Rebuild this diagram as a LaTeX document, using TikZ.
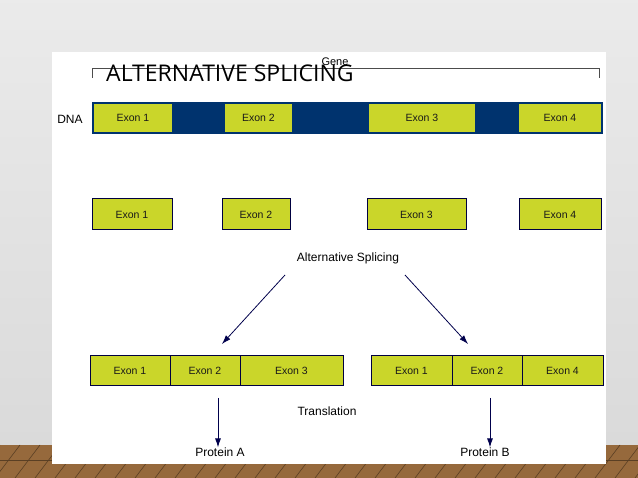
\documentclass[tikz,border=0pt]{standalone}
\usepackage{fontspec}
\setmainfont{Liberation Sans}
\newfontfamily\titlefont{Open Sans}
\usetikzlibrary{arrows.meta}
\begin{document}
\begin{tikzpicture}[x=1pt,y=-1pt,
  ex/.style={draw=black!75!blue,line width=1pt,fill=exc,inner sep=0pt,font=\fontsize{10.5}{12}\selectfont\color{black!90}},
  lbl/.style={inner sep=0pt,font=\fontsize{12}{14}\selectfont},
  arr/.style={draw=black!70!blue,line width=0.8pt,-{Latex[length=9pt,width=6pt]}}]
\definecolor{exc}{RGB}{202,214,42}
\definecolor{navy}{RGB}{0,51,110}
\definecolor{wood}{RGB}{150,105,60}
\useasboundingbox (0,0) rectangle (638,478);
\clip (0,0) rectangle (638,478);
\shade[top color=white!92!black,bottom color=white!85!black] (0,0) rectangle (638,478);
\fill[wood] (0,445) rectangle (638,478);
\foreach \i in {0,20,...,680}{\draw[wood!60!black,line width=0.6pt] (\i,445) -- (\i-25,478);}
\draw[wood!60!black] (0,460) -- (638,460);
\fill[white] (52,52) rectangle (606,464);
% gene bracket
\draw[black!70,line width=0.7pt] (92,78) -- (92,68) -- (599,68) -- (599,78);
\node[lbl,font=\fontsize{11}{12}\selectfont] (gene) at (335,62) {Gene};
\node[inner sep=0pt,anchor=west,font=\titlefont\fontsize{23}{26}\selectfont] (title) at (106,73) {ALTERNATIVE SPLICING};
% DNA
\node[lbl] (dna) at (70,119) {DNA};
\fill[navy] (92,102) rectangle (603,134);
\node[ex,draw=none,minimum width=78,minimum height=28] (d1) at (133,118) {Exon 1};
\node[ex,draw=none,minimum width=67,minimum height=28] (d2) at (258.5,118) {Exon 2};
\node[ex,draw=none,minimum width=106,minimum height=28] (d3) at (422,118) {Exon 3};
\node[ex,draw=none,minimum width=82,minimum height=28] (d4) at (560,118) {Exon 4};
% row 2
\node[ex,minimum width=80,minimum height=31] (e1) at (132,214.5) {Exon 1};
\node[ex,minimum width=68,minimum height=31] (e2) at (256,214.5) {Exon 2};
\node[ex,minimum width=99,minimum height=31] (e3) at (416.5,214.5) {Exon 3};
\node[ex,minimum width=82,minimum height=31] (e4) at (560,214.5) {Exon 4};
\node[lbl] (alt) at (348,258) {Alternative Splicing};
\coordinate (a1s) at (285,275); \coordinate (a2s) at (405,275);
% row 3
\node[ex,minimum width=80,minimum height=30] (a1) at (130,371) {Exon 1};
\node[ex,minimum width=70,minimum height=30] (a2) at (205,371) {Exon 2};
\node[ex,minimum width=103,minimum height=30] (a3) at (291.5,371) {Exon 3};
\node[ex,minimum width=81,minimum height=30] (b1) at (411.5,371) {Exon 1};
\node[ex,minimum width=70,minimum height=30] (b2) at (487,371) {Exon 2};
\node[ex,minimum width=81,minimum height=30] (b4) at (562.5,371) {Exon 4};
\draw[arr] (a1s) -- (222,344);
\draw[arr] (a2s) -- (468,344);
\node[lbl] (tr) at (327,411) {Translation};
\node[lbl] (pa) at (220,452) {Protein A};
\node[lbl] (pb) at (485,452) {Protein B};
\draw[arr] (218,398) -- (pa.north -| 218,0);
\draw[arr] (490,398) -- (pb.north -| 490,0);
\end{tikzpicture}
\end{document}
